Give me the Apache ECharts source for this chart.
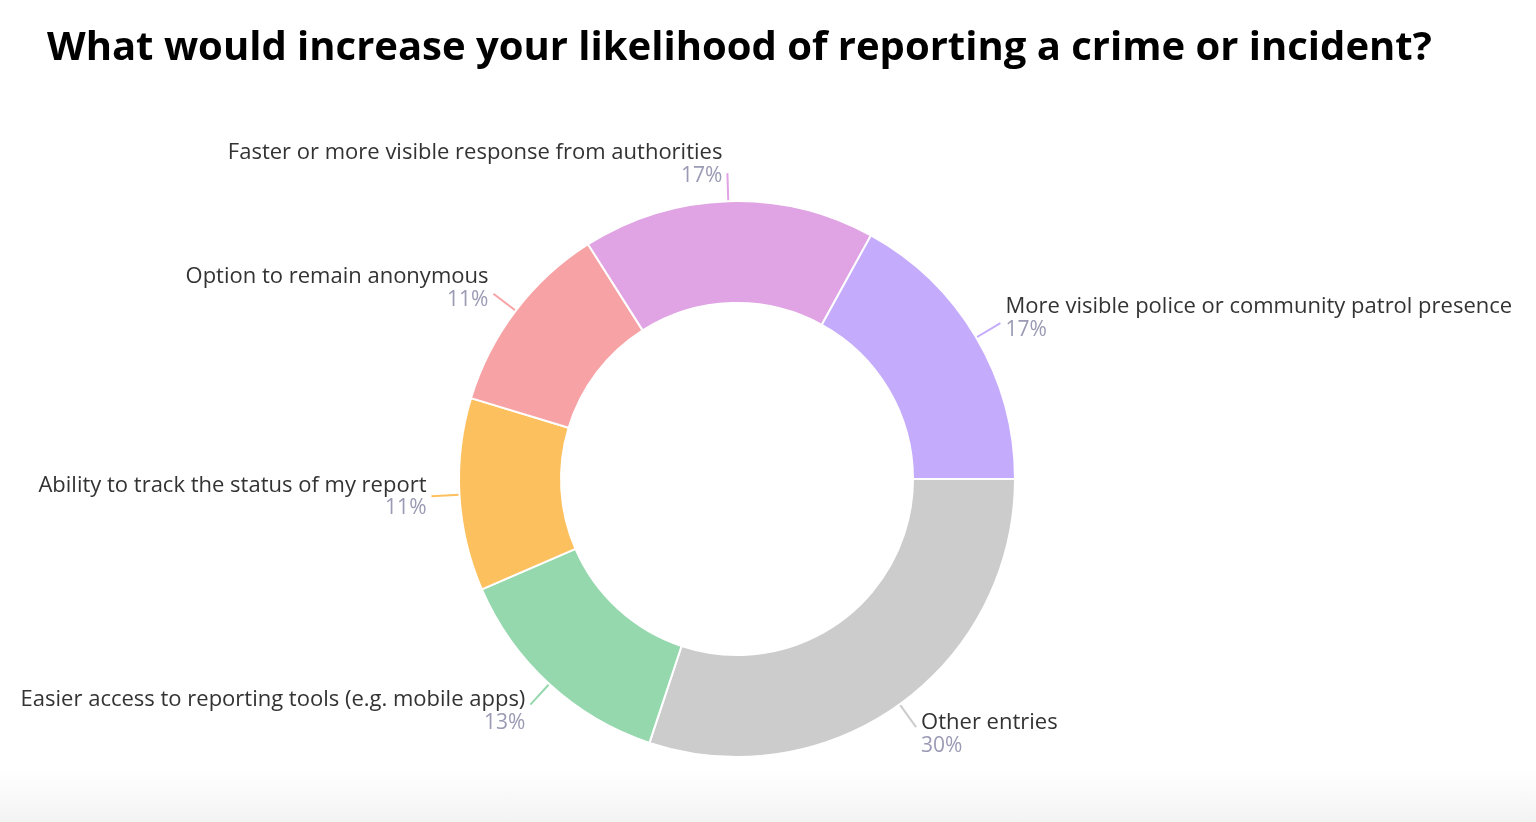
<!DOCTYPE html>
<html>
<head>
<meta charset="utf-8">
<script src="https://cdn.jsdelivr.net/npm/echarts@6/dist/echarts.min.js"></script>
<style>
html,body{margin:0;padding:0;width:1536px;height:822px;overflow:hidden;
background:linear-gradient(to bottom,#ffffff 0px,#ffffff 770px,#f3f3f3 822px);}
#chart{width:1536px;height:822px;}
</style>
</head>
<body>
<div id="chart"></div>
<script>
const titleText = 'What would increase your likelihood of reporting a crime or incident?';
const categories = [
  'Other entries',
  'Easier access to reporting tools (e.g. mobile apps)',
  'Ability to track the status of my report',
  'Option to remain anonymous',
  'Faster or more visible response from authorities',
  'More visible police or community patrol presence'
];
const values = [30.1, 13.4, 11.2, 11.3, 17.0, 17.0];
const colors = ['#cccccc', '#95d8ae', '#fdc05e', '#f7a3a6', '#e0a3e3', '#c5abfb'];

// label block pushed slightly outward vertically, following the slice direction
const total = values.reduce((a, b) => a + b, 0);
let cum = 0;
const dataItems = categories.map((c, i) => {
  const mid = (cum + values[i] / 2) / total * 2 * Math.PI;
  cum += values[i];
  const d = 9 * Math.sin(mid);
  const pad = d > 0 ? [2 * d, 0, 0, 0] : [0, 0, -2 * d, 0];
  return {name: c, value: values[i], label: {padding: pad}};
});

const chart = echarts.init(document.getElementById('chart'), null, {renderer: 'canvas'});
chart.setOption({
  backgroundColor: 'transparent',
  animation: false,
  title: {
    text: titleText,
    left: 42, top: 24,
    textStyle: {fontFamily: 'Open Sans', fontWeight: 'bold', fontSize: 40, color: '#000'}
  },
  color: colors,
  series: [{
    type: 'pie',
    center: [737, 479],
    radius: [176, 278],
    startAngle: 0,
    clockwise: true,
    itemStyle: {borderColor: '#fff', borderWidth: 2},
    label: {
      show: true,
      position: 'outside',
      formatter: p => '{n|' + p.name + '}\n{p|' + Math.round(p.percent) + '%}',
      rich: {
        n: {fontFamily: 'Open Sans', fontSize: 22, color: '#333', lineHeight: 23},
        p: {fontFamily: 'Open Sans', fontSize: 21, color: '#9a9ab4', lineHeight: 23}
      }
    },
    labelLine: {show: true, length: 28, length2: 0, lineStyle: {width: 2}},
    data: dataItems
  }]
});
</script>
</body>
</html>
